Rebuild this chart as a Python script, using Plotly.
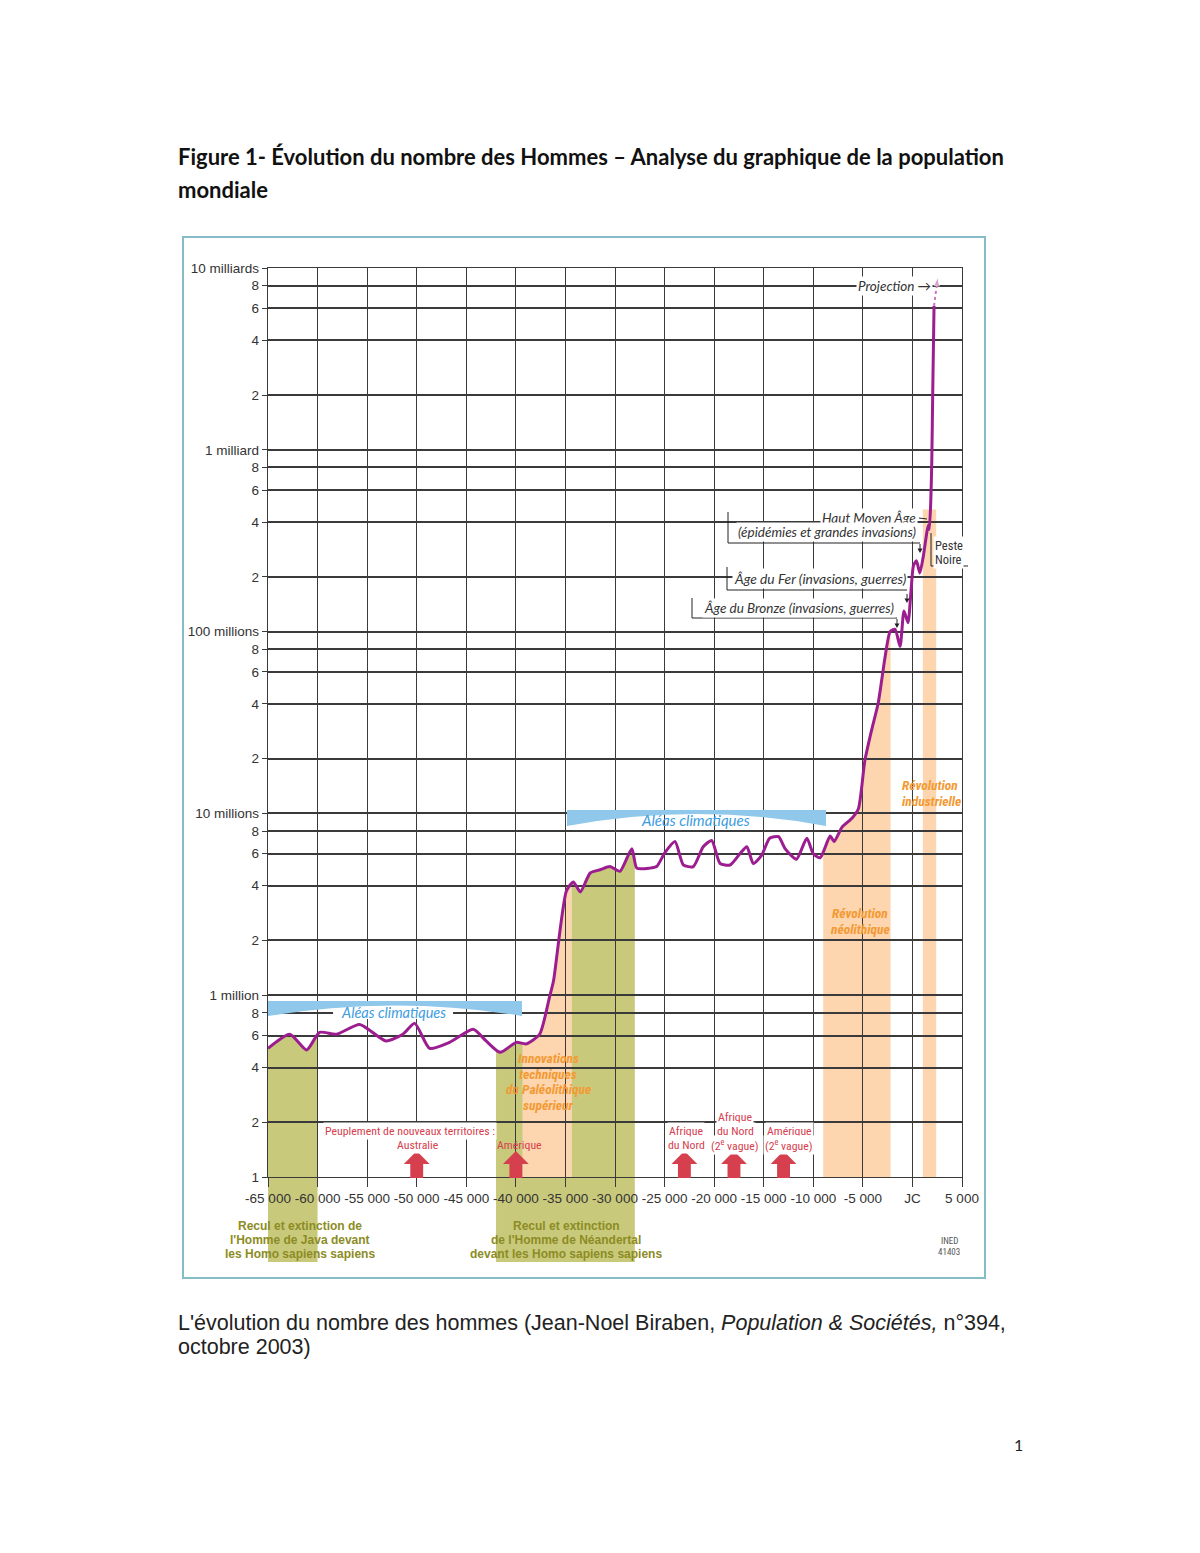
import numpy as np
import plotly.graph_objects as go

# world population curve, years as drawn on the chart (JC = 0)
years = [-65000, -62800, -61100, -59800, -58100, -55750, -53100, -51400, -50200,
         -48700, -46700, -44300, -43000, -41600, -39950, -38950, -37600, -36600,
         -36200, -34900, -34200, -33500, -32500, -31500, -30500, -29500, -28300,
         -27800, -26500, -25800, -24950, -23950, -23100, -22100, -21100, -20250,
         -19400, -18400, -17400, -16700, -16050, -15200, -14400, -13500, -12850,
         -11700, -10650, -10000, -9300, -8300, -7900, -7100, -6100, -5450, -4800,
         -4100, -3450, -2750, -2250, -1750, -1250, -850, -450, -150, 100, 400,
         750, 1100, 1450, 1600, 1700, 1850, 1950, 2050, 2180]
population = [5.1e5, 6.1e5, 5.0e5, 6.25e5, 6.1e5, 6.9e5, 5.6e5, 6.1e5, 7.0e5,
              5.1e5, 5.5e5, 6.5e5, 5.6e5, 4.85e5, 5.5e5, 5.4e5, 6.1e5, 9.8e5,
              1.2e6, 3.75e6, 4.2e6, 3.7e6, 4.7e6, 4.9e6, 5.1e6, 4.8e6, 6.4e6,
              5.0e6, 5.0e6, 5.1e6, 6.1e6, 7.0e6, 5.2e6, 5.1e6, 6.55e6, 7.1e6,
              5.3e6, 5.2e6, 6.0e6, 6.55e6, 5.3e6, 5.9e6, 7.3e6, 7.45e6, 6.4e6,
              5.6e6, 7.3e6, 6.0e6, 5.7e6, 7.5e6, 7.0e6, 8.4e6, 9.4e6, 1.06e7, 1.95e7,
              2.9e7, 4.05e7, 7.3e7, 1.0e8, 1.03e8, 8.3e7, 1.3e8, 1.12e8, 1.65e8, 2.3e8, 2.45e8,
              2.1e8, 2.6e8, 3.5e8, 3.85e8, 3.65e8, 5.2e8, 8.5e8, 2.1e9, 6.2e9]

projection_years = [2180, 2560]
projection_population = [6.2e9, 8.9e9]

x_tickvals = [-65000, -60000, -55000, -50000, -45000, -40000, -35000, -30000,
              -25000, -20000, -15000, -10000, -5000, 0, 5000]
x_ticktext = ["-65 000", "-60 000", "-55 000", "-50 000", "-45 000", "-40 000",
              "-35 000", "-30 000", "-25 000", "-20 000", "-15 000", "-10 000",
              "-5 000", "JC", "5 000"]
y_tickvals = [1e5, 2e5, 4e5, 6e5, 8e5, 1e6, 2e6, 4e6, 6e6, 8e6, 1e7, 2e7, 4e7, 6e7, 8e7,
              1e8, 2e8, 4e8, 6e8, 8e8, 1e9, 2e9, 4e9, 6e9, 8e9, 1e10]
y_ticktext = ["1", "2", "4", "6", "8", "1 million", "2", "4", "6", "8", "10 millions",
              "2", "4", "6", "8", "100 millions", "2", "4", "6", "8", "1 milliard",
              "2", "4", "6", "8", "10 milliards"]

green_spans = [(-65000, -60000), (-42000, -39300), (-34400, -28000)]
green_spans_below = [(-65000, -60000), (-42000, -28000)]
peach_spans = [(-39300, -34400), (-9000, -2200)]
industrial_span = (1050, 2400, 4.7e8)
arrow_years = [-50000, -40000, -23000, -18000, -13000]

GREEN = "#c9c97c"
PEACH = "#fdd5ae"
RED = "#d6404e"
ORANGE = "#f39a34"
OLIVE = "#8c8c24"
BLUE = "#8fc8ea"
GRID = "#3a3a3a"

# page pixel -> paper helpers (plot area on the page: 268..962 x 268..1177)
L, R, T, B = 268, 962, 268, 1177
OFF = 8  # body margin of the html page
W, H = 1184, 1537


def px(x):
    return (x - L) / (R - L)


def py(y):
    return (B - y) / (B - T)


shapes = []
annotations = []

# filled areas under the curve
log_pop = np.log10(population)


def area_path(x0, x1):
    xs = [x0] + [x for x in years if x0 < x < x1] + [x1]
    ys = 10 ** np.interp(xs, years, log_pop)
    pts = [(x0, 1e5)] + list(zip(xs, ys)) + [(x1, 1e5)]
    return "M" + "L".join(f"{x:.1f},{y:.1f}" for x, y in pts) + "Z"


for a, b in green_spans:
    shapes.append(dict(type="path", path=area_path(a, b), xref="x", yref="y",
                       fillcolor=GREEN, line=dict(width=0), layer="below"))
for a, b in peach_spans:
    shapes.append(dict(type="path", path=area_path(a, b), xref="x", yref="y",
                       fillcolor=PEACH, line=dict(width=0), layer="below"))
for a, b in green_spans_below:
    shapes.append(dict(type="rect", xref="x", yref="paper", x0=a, x1=b, y0=py(1262), y1=py(1178),
                       fillcolor=GREEN, line=dict(width=0), layer="below"))
shapes.append(dict(type="rect", xref="x", yref="y", x0=industrial_span[0], x1=industrial_span[1],
                   y0=1e5, y1=industrial_span[2], fillcolor=PEACH, line=dict(width=0), layer="below"))

# red arrows
for yr in arrow_years:
    pts = [(yr - 650, 1178), (yr - 650, 1164), (yr - 1300, 1164), (yr, 1151),
           (yr + 1300, 1164), (yr + 650, 1164), (yr + 650, 1178)]
    path = "M" + "L".join(f"{x},{py(y):.4f}" for x, y in pts) + "Z"
    shapes.append(dict(type="path", path=path, xref="x", yref="paper",
                       fillcolor=RED, line=dict(width=0), layer="above"))


def paper_path(pts, color):
    path = "M" + "L".join(f"{px(x):.4f},{py(y):.4f}" for x, y in pts) + "Z"
    shapes.append(dict(type="path", path=path, xref="paper", yref="paper",
                       fillcolor=color, line=dict(width=0), layer="above"))


# white gap behind the lower "Aléas climatiques" label (cuts the 8e5 grid line)
paper_path([(333, 1006), (453, 1006), (453, 1019), (333, 1019)], "white")


# blue "aléas climatiques" braces
def brace(x0, x1, top, end, ctrl):
    path = (f"M{px(x0):.4f},{py(top):.4f}L{px(x1):.4f},{py(top):.4f}L{px(x1):.4f},{py(end):.4f}"
            f"Q{px((x0 + x1) / 2):.4f},{py(ctrl):.4f} {px(x0):.4f},{py(end):.4f}Z")
    shapes.append(dict(type="path", path=path, xref="paper", yref="paper",
                       fillcolor=BLUE, line=dict(width=0), layer="above"))


brace(567, 826, 810, 826, 802)
brace(268, 522, 1001, 1016, 995)


def seg(x0, y0, x1, y1, color="#222", width=1):
    shapes.append(dict(type="line", xref="paper", yref="paper", x0=px(x0), y0=py(y0),
                       x1=px(x1), y1=py(y1), line=dict(color=color, width=width), layer="above"))


def pointer(x, y, length=9):
    seg(x, y - length, x, y - 4)
    paper_path([(x - 2.5, y - 4.5), (x + 2.5, y - 4.5), (x, y)], "#222")


def note(text, x, y, size=12, color="#333", family="Lato", xanchor="center", bg=None, align="center"):
    annotations.append(dict(text=text, x=px(x), y=py(y), xref="paper", yref="paper",
                            showarrow=False, xanchor=xanchor, yanchor="middle", align=align,
                            bgcolor=bg, borderpad=1, font=dict(size=size, color=color, family=family)))


def note_lines(lines, x, y0, dy, **kw):
    for i, t in enumerate(lines):
        note(t, x, y0 + i * dy, **kw)


# brackets for the historical annotations
seg(692, 598, 692, 618)
seg(692, 618, 897, 618)
pointer(897, 628)
seg(727, 567, 727, 590)
seg(727, 590, 907, 590)
pointer(907, 603)
seg(728, 512, 728, 543)
seg(728, 543, 920, 543)
pointer(920, 553)
seg(919, 518, 927, 519)
seg(931, 533, 931, 566)
seg(931, 566, 968, 566)

# chart frame
shapes.append(dict(type="rect", xref="paper", yref="paper", x0=px(183), x1=px(985),
                   y0=py(1278), y1=py(237), line=dict(color="#86bcc5", width=2)))

SANS = "Liberation Sans, Arial"
NARROW = "Roboto Condensed, Roboto"

# page text
note("<b>Figure 1- Évolution du nombre des Hommes – Analyse du graphique de la population</b>",
     176, 156, size=22, color="#111", family="Lato", xanchor="left")
note("<b>mondiale</b>", 176, 189, size=22, color="#111", family="Lato", xanchor="left")
note("L'évolution du nombre des hommes (Jean-Noel Biraben, <i>Population &amp; Sociétés,</i> n°394,",
     176, 1323, size=21.5, color="#222", family=SANS, xanchor="left")
note("octobre 2003)", 176, 1347, size=21.5, color="#222", family=SANS, xanchor="left")
note("1", 1018, 1445, size=16, color="#222", family="Lato")

# chart text
note("<i>Projection →</i>", 894, 286, size=13.5, family="Lato", bg="white")
note("<i>Haut Moyen Âge</i>", 918, 518, size=13.5, xanchor="right", bg="white")
note("<i>(épidémies et grandes invasions)</i>", 918, 532, size=13.5, xanchor="right", bg="white")
note("<i>Âge du Fer (invasions, guerres)</i>", 732, 578, size=13.8, xanchor="left", bg="white")
note("<i>Âge du Bronze (invasions, guerres)</i>", 702, 608, size=13.5, xanchor="left", bg="white")
note_lines(["Peste", "Noire"], 933, 545, 14, size=12.5, xanchor="left", bg="white", family=NARROW)

note("<i>Aléas climatiques</i>", 695, 820, size=15, color="#3d9de0")
note("<i>Aléas climatiques</i>", 393, 1012, size=14.5, color="#3d9de0")

note_lines(["<b><i>%s</i></b>" % t for t in ["Innovations", "techniques", "du Paléolithique", "supérieur"]],
           548, 1058, 15.7, size=13.5, color=ORANGE, family=NARROW)
note_lines(["<b><i>Révolution</i></b>", "<b><i>néolithique</i></b>"], 860, 913, 16,
           size=13.5, color=ORANGE, family=NARROW)
note_lines(["<b><i>Révolution</i></b>", "<b><i>industrielle</i></b>"], 900, 785, 16,
           size=13.5, color=ORANGE, family=NARROW, xanchor="left")

note("Peuplement de nouveaux territoires :", 410, 1131, size=11.8, color=RED, family=NARROW, bg="white")
note("Australie", 418, 1145, size=11.8, color=RED, family=NARROW, bg="white")
note("Amérique", 519, 1145, size=11.8, color=RED, family=NARROW)
note_lines(["Afrique", "du Nord"], 686, 1131, 14, size=11.8, color=RED, family=NARROW, bg="white")
note_lines(["Afrique", "du Nord", "(2<sup>e</sup> vague)"], 735, 1117, 14, size=11.8, color=RED,
           family=NARROW, bg="white")
note_lines(["Amérique", "(2<sup>e</sup> vague)"], 789, 1131, 14, size=11.8, color=RED,
           family=NARROW, bg="white")

note_lines(["<b>%s</b>" % t for t in ["Recul et extinction de", "l'Homme de Java devant",
                                        "les Homo sapiens sapiens"]],
           300, 1226, 14, size=12, color=OLIVE, family=SANS)
note_lines(["<b>%s</b>" % t for t in ["Recul et extinction", "de l'Homme de Néandertal",
                                        "devant les Homo sapiens sapiens"]],
           566, 1226, 14, size=12, color=OLIVE, family=SANS)
note_lines(["INED", "41403"], 949, 1241, 11, size=9, color="#555", family=NARROW)

fig = go.Figure()
fig.add_trace(go.Scatter(x=years, y=population, mode="lines",
                         line=dict(color="#9b1d8f", width=3, shape="spline", smoothing=0.6),
                         hoverinfo="skip"))
fig.add_trace(go.Scatter(x=projection_years, y=projection_population, mode="lines+markers",
                         line=dict(color="#c778bd", width=2, dash="dot"),
                         marker=dict(symbol="arrow", size=[0, 9], angleref="previous", color="#c778bd"),
                         hoverinfo="skip"))

axis_font = dict(family=SANS, size=13.5, color="#333")
fig.update_layout(
    width=W, height=H, autosize=False,
    margin=dict(l=L - OFF, r=W - (R - OFF), t=T - OFF, b=H - (B - OFF)),
    paper_bgcolor="white", plot_bgcolor="white",
    showlegend=False, hovermode=False,
    shapes=shapes, annotations=annotations,
    xaxis=dict(range=[-65000, 5000], tickvals=x_tickvals, ticktext=x_ticktext,
               showgrid=True, gridcolor=GRID, gridwidth=1.4, zeroline=False,
               showline=True, linecolor=GRID, linewidth=1.4, mirror=True,
               ticks="outside", ticklen=9, tickcolor=GRID, tickfont=axis_font),
    yaxis=dict(type="log", range=[5, 10], tickvals=y_tickvals, ticktext=y_ticktext,
               showgrid=True, gridcolor=GRID, gridwidth=1.6, zeroline=False,
               showline=True, linecolor=GRID, linewidth=1.4, mirror=True,
               ticks="outside", ticklen=5, tickcolor=GRID, tickfont=axis_font),
)

fig.write_html("out.html")
